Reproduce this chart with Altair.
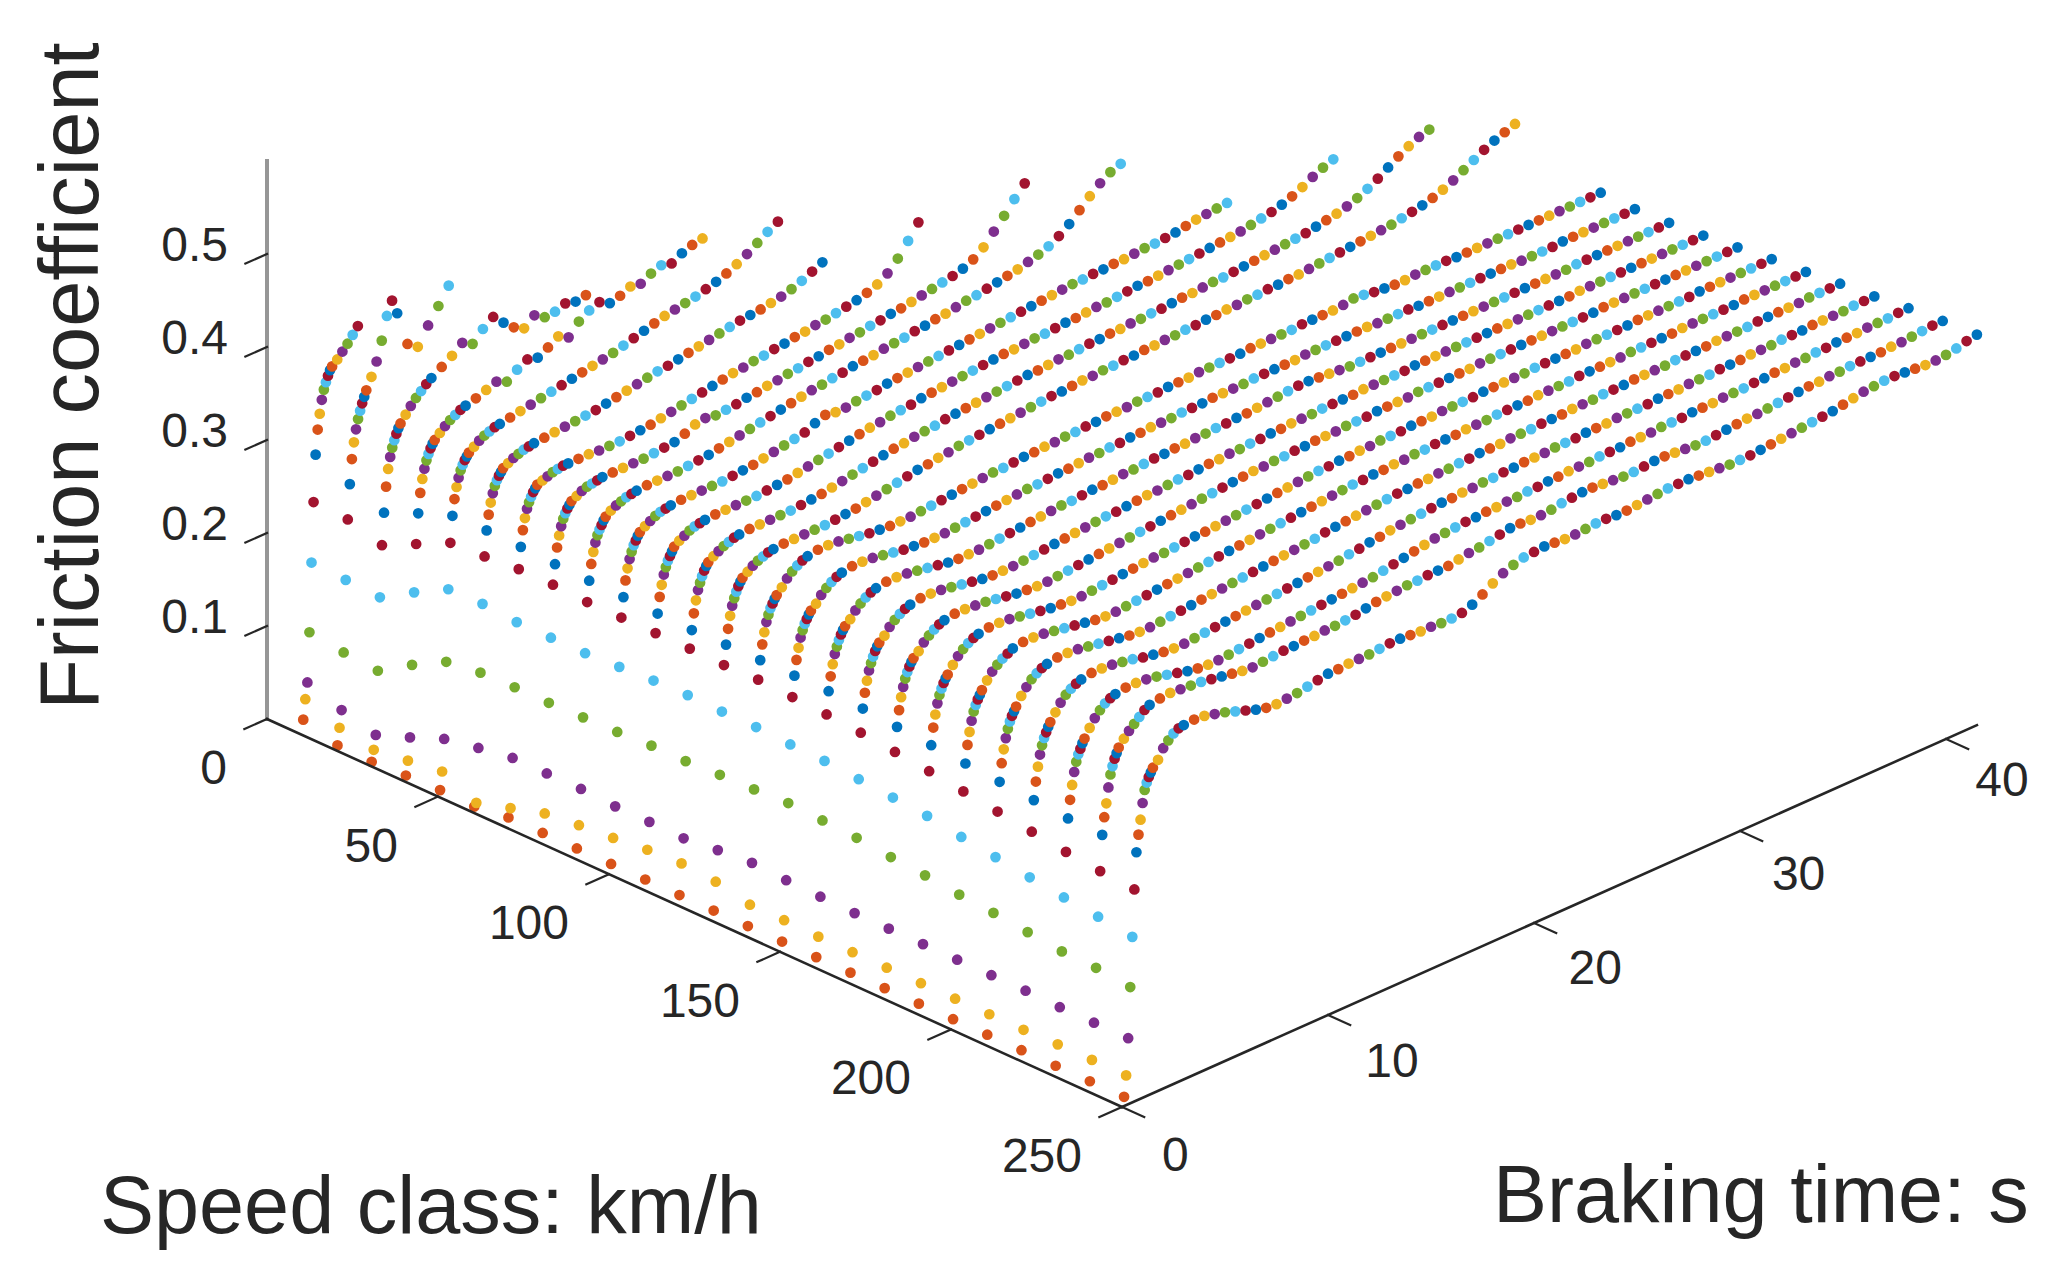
import altair as alt
import pandas as pd

# ---------------- data (friction coefficient x1000) ----------------
SPEEDS = [10, 20, 30, 40, 50, 60, 70, 80, 90, 100, 110, 120, 130,
          140, 150, 160, 170, 180, 190, 200, 210, 220, 230, 240, 250]

# sample times: fine steps in the ramp, coarser afterwards
RAMP_T = [0.1, 0.2, 0.3, 0.4, 0.5, 0.6, 0.7, 0.8, 0.9, 1.0, 1.1, 1.2, 1.3, 1.4, 1.5]
KNEE_T = [1.75, 2.0, 2.25, 2.5, 2.75, 3.0]
BODY_T = [3.5 + 0.5 * k for k in range(77)]
GRID = RAMP_T + KNEE_T + BODY_T

RAMP = {
    10: [15, 36, 53, 106, 180, 244, 294, 320, 336, 350, 360, 367, 373, 378, 381],
    20: [4, 22, 40, 101, 178, 242, 279, 305, 322, 335, 345, 353, 360, 366, 372],
    30: [3, 15, 30, 98, 176, 231, 265, 292, 310, 322, 331, 338, 344, 349, 353],
    40: [5, 20, 44, 121, 198, 249, 281, 302, 316, 326, 334, 340, 345, 349, 352],
    50: [6, 25, 59, 141, 218, 267, 295, 312, 324, 333, 340, 345, 349, 352, 355],
    60: [5, 8, 66, 146, 219, 269, 296, 312, 324, 333, 340, 345, 349, 352, 355],
    70: [10, 19, 72, 147, 216, 272, 295, 312, 324, 333, 339, 344, 348, 351, 354],
    80: [10, 30, 72, 147, 216, 272, 293, 310, 322, 331, 338, 343, 347, 350, 353],
    90: [10, 34, 72, 148, 216, 270, 292, 309, 321, 330, 337, 342, 346, 350, 353],
    100: [10, 37, 70, 149, 218, 270, 291, 308, 320, 329, 336, 342, 346, 350, 353],
    110: [10, 41, 70, 151, 220, 270, 290, 307, 319, 329, 336, 342, 346, 350, 354],
    120: [10, 43, 69, 151, 221, 270, 289, 306, 319, 329, 336, 342, 347, 351, 354],
    130: [10, 40, 73, 153, 220, 269, 290, 306, 319, 329, 336, 342, 347, 351, 354],
    140: [10, 32, 76, 154, 220, 270, 290, 306, 318, 328, 335, 341, 345, 349, 352],
    150: [10, 32, 74, 156, 218, 268, 290, 306, 318, 328, 335, 341, 345, 349, 352],
    160: [10, 31, 73, 154, 217, 266, 290, 305, 317, 327, 334, 340, 345, 349, 352],
    170: [10, 31, 72, 152, 214, 263, 288, 304, 316, 326, 333, 339, 344, 348, 351],
    180: [10, 31, 72, 148, 211, 259, 285, 302, 315, 325, 333, 339, 344, 348, 351],
    190: [10, 31, 72, 145, 208, 255, 282, 300, 313, 324, 332, 338, 343, 347, 350],
    200: [10, 31, 72, 141, 202, 250, 279, 298, 311, 322, 331, 337, 342, 346, 350],
    210: [10, 31, 72, 138, 197, 245, 276, 295, 309, 320, 329, 336, 341, 345, 349],
    220: [10, 31, 72, 134, 192, 240, 273, 292, 307, 319, 328, 335, 340, 345, 349],
    230: [10, 32, 71, 130, 187, 235, 270, 289, 304, 317, 327, 334, 339, 344, 348],
    240: [10, 32, 71, 129, 183, 231, 269, 287, 301, 317, 330, 338, 345, 350, 355],
    250: [10, 32, 71, 125, 178, 228, 267, 285, 300, 317, 330, 337, 342, 346, 350],
}

BODY = {
    10: [386, 392, 398, 405, 412],
    20: [384, 398, 418, 442, 456, 440, 402, 394, 412, 428, 445],
    30: [360, 367, 373, 378, 383, 387,
         394, 401, 410, 404, 415, 423, 412, 402, 396, 405, 398, 399, 403, 400, 402],
    40: [357, 362, 366, 369, 372, 374,
         377, 381, 385, 380, 388, 394, 391, 397, 404, 398,
         410, 417, 421, 415, 418, 423, 421, 427, 431, 428,
         434, 438, 440],
    50: [359, 363, 366, 368, 370, 371,
         373, 375, 377, 379, 381, 383, 385, 387, 389, 391,
         393, 396, 399, 402, 405, 408, 410, 412, 414, 417,
         420, 424, 429, 435, 442, 449, 455],
    60: [358, 361, 363, 365, 366, 367,
         368, 369, 370, 371, 372, 373, 375, 377, 379, 381,
         383, 385, 386, 388, 390, 392, 394, 396, 398, 400,
         401, 402, 404, 406, 409, 413, 418, 423],
    70: [356, 358, 360, 361, 362, 362,
         362, 362, 361, 361, 361, 362, 363, 364, 366, 368,
         370, 372, 374, 376, 378, 380, 381, 383, 384, 386,
         387, 389, 390, 392, 393, 395, 397, 399, 402, 406,
         413, 424, 438, 453],
    80: [356, 359, 361, 362, 363, 364,
         364, 364, 364, 364, 365, 366, 367, 371, 376, 378,
         376, 377, 378, 380, 381, 383, 384, 386, 387, 389,
         390, 392, 393, 395, 396, 398, 399, 401, 402, 404,
         406, 408, 410, 412, 415, 420, 428, 440, 452, 465,
         477],
    90: [357, 360, 362, 364, 365, 366,
         367, 367, 367, 367, 368, 369, 370, 372, 374, 376,
         378, 380, 382, 384, 386, 388, 390, 391, 393, 394,
         396, 397, 398, 400, 401, 402, 404, 405, 407, 408,
         410, 412, 413, 415, 417, 419, 421, 424, 427, 431,
         437, 445, 455, 465, 474, 481, 485],
    100: [357, 360, 363, 365, 366, 367,
          368, 368, 368, 368, 368, 369, 370, 371, 373, 375,
          377, 379, 381, 386, 390, 388, 388, 390, 391, 392,
          394, 395, 396, 397, 398, 399, 400, 401, 402, 403,
          404, 405, 406, 407, 408, 409, 410, 411, 412, 412,
          413, 413, 414, 414, 415, 416, 416, 417, 418, 420,
          422, 423, 424, 425],
    110: [358, 361, 364, 366, 367, 368,
          369, 369, 369, 369, 369, 370, 371, 372, 374, 376,
          378, 380, 382, 384, 386, 388, 389, 391, 392, 393,
          395, 396, 397, 398, 399, 400, 401, 402, 403, 403,
          404, 405, 405, 406, 407, 407, 408, 409, 409, 410,
          411, 412, 412, 413, 414, 415, 416, 417, 418, 419,
          420, 421, 423, 425, 427, 430, 434, 439, 445, 450,
          454],
    120: [358, 361, 364, 366, 368, 369,
          370, 370, 370, 370, 370, 371, 372, 373, 375, 377,
          379, 381, 383, 385, 387, 388, 390, 391, 392, 394,
          395, 396, 397, 398, 399, 400, 401, 402, 402, 403,
          404, 404, 405, 406, 406, 407, 407, 408, 408, 409,
          409, 410, 411, 411, 412, 413, 413, 414, 415, 416,
          417, 418, 419, 420, 421, 423, 425, 427, 430, 434,
          439, 445, 452, 459, 465, 470, 473],
    130: [358, 362, 365, 367, 369, 370,
          371, 371, 371, 371, 371, 372, 373, 374, 376, 378,
          380, 382, 384, 386, 387, 389, 390, 392, 393, 394,
          395, 396, 397, 398, 399, 400, 401, 401, 402, 403,
          403, 404, 404, 405, 405, 406, 406, 407, 407, 408,
          408, 409, 409, 410, 410, 411, 411, 412, 412, 413,
          413, 414, 415, 416, 417, 418, 419, 420, 421, 422,
          424, 426, 428, 431, 435, 440, 446, 452, 458, 463,
          467, 471],
    140: [358, 365, 370, 374, 377, 379,
          381, 381, 380, 378, 376, 374, 373, 372, 372, 372,
          373, 374, 375, 376, 377, 378, 379, 380, 380, 381,
          382, 382, 383, 383, 384, 384, 385, 385, 386, 386,
          386, 387, 387, 387, 388, 388, 388, 389, 389, 389,
          389, 389, 390, 390, 390, 390, 390, 391, 391, 391,
          391, 392, 394, 393, 391, 390, 389, 389, 390, 390,
          390, 390, 389, 389, 389, 389, 389, 389, 389, 389,
          389, 389, 389, 389, 389, 389, 389],
    150: [357, 364, 369, 373, 376, 378,
          380, 380, 379, 377, 375, 373, 372, 371, 371, 371,
          372, 373, 374, 375, 376, 377, 378, 379, 379, 380,
          381, 381, 382, 383, 383, 384, 384, 385, 385, 386,
          386, 386, 387, 387, 387, 388, 388, 388, 388, 389,
          389, 389, 389, 389, 390, 390, 390, 390, 390, 390,
          390, 389, 389, 389, 389, 388, 388, 388, 388, 388,
          388, 388, 388, 388, 388, 387, 387, 387, 387, 388,
          388, 388, 388, 388, 388, 388, 388],
    160: [357, 364, 369, 373, 376, 378,
          380, 380, 379, 377, 375, 373, 371, 370, 370, 370,
          371, 372, 373, 374, 375, 376, 377, 378, 378, 379,
          380, 380, 381, 382, 382, 383, 384, 384, 385, 385,
          386, 386, 387, 387, 388, 388, 389, 390, 391, 392,
          393, 393, 392, 391, 390, 389, 389, 389, 389, 389,
          389, 389, 389, 389, 389, 389, 389, 389, 389, 389,
          389, 389, 389, 389, 389, 389, 389, 390, 390, 390,
          390, 390, 390, 390, 390, 390, 390],
    170: [356, 363, 368, 372, 375, 377,
          379, 379, 378, 376, 374, 372, 370, 369, 369, 369,
          370, 371, 372, 373, 374, 375, 376, 377, 378, 378,
          379, 380, 381, 381, 382, 383, 383, 384, 385, 385,
          386, 386, 387, 387, 388, 388, 389, 389, 389, 390,
          390, 390, 390, 391, 391, 391, 391, 391, 392, 392,
          392, 392, 392, 392, 392, 392, 392, 392, 392, 392,
          392, 392, 392, 392, 393, 393, 393, 393, 393, 393,
          393, 393, 393, 393, 393, 393, 393],
    180: [356, 363, 368, 372, 375, 377,
          379, 379, 378, 377, 375, 373, 371, 370, 369, 369,
          370, 371, 372, 373, 374, 375, 376, 377, 378, 379,
          380, 381, 382, 383, 384, 385, 386, 387, 388, 389,
          389, 390, 390, 391, 391, 392, 392, 392, 393, 393,
          393, 394, 394, 394, 394, 395, 395, 395, 395, 395,
          395, 396, 396, 396, 396, 396, 396, 396, 396, 396,
          396, 396, 396, 397, 397, 397, 397, 397, 397, 397,
          397, 397, 397, 397, 397, 397, 397],
    190: [358, 365, 370, 374, 377, 379,
          381, 381, 380, 378, 376, 374, 372, 371, 370, 370,
          371, 372, 373, 374, 375, 376, 377, 377, 378, 379,
          380, 380, 381, 382, 383, 384, 385, 386, 387, 388,
          389, 390, 391, 391, 392, 392, 393, 393, 394, 394,
          394, 395, 395, 395, 396, 396, 396, 396, 397, 397,
          397, 397, 397, 398, 398, 398, 398, 398, 399, 399,
          399, 399, 399, 400, 400, 400, 400, 400, 400, 401,
          401, 401, 401, 401, 401, 401, 401],
    200: [358, 365, 370, 374, 377, 380,
          382, 382, 381, 379, 377, 375, 373, 371, 370, 370,
          371, 372, 373, 374, 375, 376, 377, 378, 379, 380,
          381, 382, 383, 384, 385, 386, 387, 388, 389, 390,
          391, 392, 393, 393, 394, 394, 395, 395, 396, 396,
          397, 397, 397, 398, 398, 398, 399, 399, 399, 399,
          400, 400, 400, 400, 401, 401, 401, 401, 401, 402,
          402, 402, 402, 402, 403, 403, 403, 403, 403, 403,
          404, 404, 404, 404, 404, 404, 404],
    210: [358, 365, 371, 375, 378, 380,
          382, 382, 381, 379, 377, 375, 373, 371, 370, 370,
          371, 372, 373, 374, 375, 376, 377, 378, 379, 380,
          381, 382, 383, 384, 385, 386, 388, 389, 390, 391,
          392, 393, 394, 395, 395, 396, 396, 397, 397, 398,
          398, 399, 399, 399, 400, 400, 400, 401, 401, 401,
          402, 402, 402, 403, 403, 403, 404, 404, 404, 404,
          405, 405, 405, 405, 406, 406, 406, 406, 407, 407,
          407, 407, 407, 408, 408, 408, 408],
    220: [357, 365, 371, 375, 378, 380,
          382, 382, 381, 379, 377, 374, 372, 370, 369, 369,
          370, 371, 372, 373, 374, 375, 376, 377, 378, 379,
          380, 381, 382, 383, 384, 386, 387, 389, 390, 392,
          393, 394, 395, 396, 397, 397, 398, 398, 399, 399,
          400, 400, 401, 401, 401, 402, 402, 402, 403, 403,
          403, 404, 404, 404, 404, 405, 405, 405, 406, 406,
          406, 407, 407, 407, 408, 408, 408, 409, 409, 409,
          410, 410, 410, 410, 411, 411, 411],
    230: [357, 365, 371, 376, 379, 381,
          383, 383, 382, 380, 377, 374, 371, 369, 368, 368,
          369, 370, 371, 372, 373, 374, 375, 376, 377, 378,
          379, 380, 381, 382, 383, 385, 387, 389, 391, 393,
          395, 396, 397, 398, 398, 399, 399, 400, 400, 401,
          401, 402, 402, 403, 403, 403, 404, 404, 404, 405,
          405, 405, 406, 406, 406, 407, 407, 407, 408, 408,
          408, 409, 409, 410, 410, 411, 411, 412, 412, 413,
          413, 413, 414, 414, 414, 415, 415],
    240: [362, 368, 373, 378, 383, 386,
          388, 389, 388, 387, 386, 384, 382, 380, 378, 377,
          378, 379, 380, 380, 381, 381, 382, 382, 383, 384,
          386, 388, 389, 390, 391, 391, 392, 392, 392, 394,
          396, 397, 399, 401, 403, 403, 402, 402, 403, 405,
          406, 407, 407, 406, 405, 404, 404, 405, 406, 406,
          405, 404, 403, 403, 404, 405, 406, 407, 407, 408,
          409, 410, 411, 412, 412, 413, 413, 414, 414, 414,
          414, 415, 415, 416, 417, 418, 418],
    250: [356, 366, 372, 377, 380, 381,
          382, 381, 378, 375, 371, 367, 363, 360, 359, 360,
          361, 363, 365, 367, 367, 368, 368, 368, 369, 370,
          370, 369, 368, 368, 367, 367, 368, 372, 378, 385,
          391, 395, 398, 399, 400, 399, 398, 398, 399, 400,
          400, 399, 399, 400, 401, 402, 403, 403, 403, 402,
          401, 400, 399, 399, 399, 400, 401, 402, 403, 404,
          405, 406, 407, 409, 411, 413, 414, 415, 415, 414,
          413, 412, 412, 413, 415, 418, 420],
}

SPEED_TICKS = [0, 50, 100, 150, 200, 250]
TIME_TICKS = [0, 10, 20, 30, 40]
MU_TICKS = [0.1, 0.2, 0.3, 0.4, 0.5]
SPEED_MAX, TIME_MAX, MU_MAX = 250, 41.5, 0.6

# MATLAB default colour order (index 0 = blue)
COLORS = ["#0072BD", "#D95319", "#EDB120", "#7E2F8E", "#77AC30", "#4DBEEE", "#A2142F"]

# ---------------- projection of the 3-D view onto the page ----------------
OX, OY = 267, 719          # page pixel of (speed 0, time 0, mu 0)
SX, SY = 3.42, 1.552       # pixels per km/h
TX, TY = 20.6, -9.2        # pixels per second
ZY = -930                  # pixels per unit of friction coefficient


def px(s, t):
    return f"{OX} + {SX}*({s}) + {TX}*({t})"


def py(s, t, z):
    return f"{OY} + {SY}*({s}) + ({TY})*({t}) + ({ZY})*({z})"


W, H = 2036, 1261
XS = alt.Scale(domain=[8, 8 + W], nice=False, zero=False)
YS = alt.Scale(domain=[8, 8 + H], nice=False, zero=False, reverse=True)
FONT = "Liberation Sans"
INK = "#262626"

# ---------------- points ----------------
rows = []
for v in SPEEDS:
    vals = RAMP[v] + BODY[v]
    for i, m in enumerate(vals):
        rows.append({"speed": v, "time": GRID[i], "mu": m / 1000.0, "ci": (i + 1) % 7})
pts = pd.DataFrame(rows)

points = alt.Chart(pts).transform_calculate(
    X=px("datum.speed", "datum.time"),
    Y=py("datum.speed", "datum.time", "datum.mu"),
).mark_point(filled=True, shape="circle", size=115, opacity=1, strokeWidth=0).encode(
    x=alt.X("X:Q", scale=XS, axis=None),
    y=alt.Y("Y:Q", scale=YS, axis=None),
    color=alt.Color("ci:N", scale=alt.Scale(domain=list(range(7)), range=COLORS), legend=None),
)

# ---------------- axis lines ----------------
axes_df = pd.DataFrame({
    "kind": ["z", "speed", "time"],
    "s1": [0, 0, SPEED_MAX], "t1": [0, 0, 0], "z1": [0, 0, 0],
    "s2": [0, SPEED_MAX, SPEED_MAX], "t2": [0, 0, TIME_MAX], "z2": [MU_MAX, 0, 0],
})


def seg_layer(df, color, width):
    return alt.Chart(df).transform_calculate(
        X1=px("datum.s1", "datum.t1"), Y1=py("datum.s1", "datum.t1", "datum.z1"),
        X2=px("datum.s2", "datum.t2"), Y2=py("datum.s2", "datum.t2", "datum.z2"),
    ).mark_rule(color=color, strokeWidth=width, strokeCap="square").encode(
        x=alt.X("X1:Q", scale=XS, axis=None), y=alt.Y("Y1:Q", scale=YS, axis=None),
        x2="X2:Q", y2="Y2:Q",
    )


z_axis = seg_layer(axes_df[axes_df.kind == "z"], "#969696", 4)
floor_axes = seg_layer(axes_df[axes_df.kind != "z"], INK, 2.6)

# ---------------- tick marks ----------------
tick_rows = []
for s in SPEED_TICKS:
    tick_rows.append({"s1": s, "t1": 0, "z1": 0, "s2": s, "t2": -1.1, "z2": 0})
for t in TIME_TICKS:
    tick_rows.append({"s1": SPEED_MAX, "t1": t, "z1": 0, "s2": SPEED_MAX + 6.5, "t2": t, "z2": 0})
for z in MU_TICKS:
    tick_rows.append({"s1": 0, "t1": 0, "z1": z, "s2": 0, "t2": -1.05, "z2": z})
ticks = seg_layer(pd.DataFrame(tick_rows), INK, 2.2)

# ---------------- tick labels ----------------
lab_style = dict(font=FONT, fontSize=48, color=INK, baseline="middle")

speed_labels = alt.Chart(pd.DataFrame({"s": SPEED_TICKS, "lab": [str(v) for v in SPEED_TICKS]})).transform_calculate(
    X=px("datum.s", 0) + " - 40", Y=py("datum.s", 0, 0) + " + 51",
).mark_text(align="right", **lab_style).encode(
    x=alt.X("X:Q", scale=XS, axis=None), y=alt.Y("Y:Q", scale=YS, axis=None), text="lab:N")

time_labels = alt.Chart(pd.DataFrame({"t": TIME_TICKS, "lab": [str(v) for v in TIME_TICKS]})).transform_calculate(
    X=px(SPEED_MAX, "datum.t") + " + 40 - 0.27*datum.t",
    Y=py(SPEED_MAX, "datum.t", 0) + " + 50 - 0.17*datum.t",
).mark_text(align="left", **lab_style).encode(
    x=alt.X("X:Q", scale=XS, axis=None), y=alt.Y("Y:Q", scale=YS, axis=None), text="lab:N")

mu_labels = alt.Chart(pd.DataFrame({"z": MU_TICKS, "lab": [f"{v:.1f}" for v in MU_TICKS]})).transform_calculate(
    X=px(0, 0) + " - 39", Y=py(0, 0, "datum.z") + " - 7",
).mark_text(align="right", **lab_style).encode(
    x=alt.X("X:Q", scale=XS, axis=None), y=alt.Y("Y:Q", scale=YS, axis=None), text="lab:N")

# ---------------- axis titles ----------------
one = pd.DataFrame({"a": [0]})
title_z = alt.Chart(one).mark_text(
    text="Friction coefficient", angle=270, font=FONT, fontSize=83, color=INK,
    align="center", baseline="alphabetic",
).encode(x=alt.value(90), y=alt.value(368))
title_s = alt.Chart(one).mark_text(
    text="Speed class: km/h", font=FONT, fontSize=81, color=INK,
    align="left", baseline="alphabetic",
).encode(x=alt.value(92), y=alt.value(1225))
title_t = alt.Chart(one).mark_text(
    text="Braking time: s", font=FONT, fontSize=81, color=INK,
    align="left", baseline="alphabetic",
).encode(x=alt.value(1485), y=alt.value(1214))

chart = alt.layer(
    points, z_axis, floor_axes, ticks,
    speed_labels, time_labels, mu_labels,
    title_z, title_s, title_t,
).properties(
    width=W, height=H, padding=0, autosize=alt.AutoSizeParams(type="none"),
    background="white",
).configure_view(stroke=None)

chart.save("out.html", embed_options={"renderer": "svg", "actions": False})
